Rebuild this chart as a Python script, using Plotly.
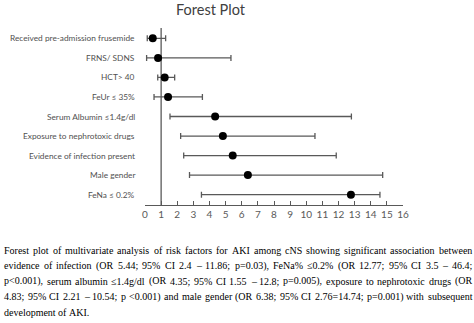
import plotly.graph_objects as go

# ---- data ----
factors = ["Received pre-admission frusemide", "FRNS/ SDNS", "HCT> 40", "FeUr ≤ 35%",
           "Serum Albumin ≤1.4g/dl", "Exposure to nephrotoxic drugs",
           "Evidence of infection present", "Male gender", "FeNa ≤ 0.2%"]
odds_ratio = [0.48, 0.81, 1.22, 1.43, 4.35, 4.83, 5.44, 6.38, 12.77]
ci_low = [0.14, 0.10, 0.79, 0.56, 1.55, 2.21, 2.40, 2.76, 3.50]
ci_high = [1.28, 5.33, 1.84, 3.56, 12.80, 10.54, 11.86, 14.74, 14.57]
x_ticks = list(range(0, 17))
ref_line = 1

caption_lines = [
    "Forest plot of multivariate analysis of risk factors for AKI among cNS showing significant association between",
    "evidence of infection (OR 5.44; 95% CI 2.4 – 11.86; p=0.03), FeNa% ≤0.2% (OR 12.77; 95% CI 3.5 – 46.4;",
    "p<0.001), serum albumin ≤1.4g/dl (OR 4.35; 95% CI 1.55 – 12.8; p=0.005), exposure to nephrotoxic drugs (OR",
    "4.83; 95% CI 2.21 – 10.54; p <0.001) and male gender (OR 6.38; 95% CI 2.76=14.74; p=0.001) with subsequent",
    "development of AKI.",
]

W, H = 474, 323
ML, MR, MT, MB = 145, 71, 28, 118
PW, PH = W - ML - MR, H - MT - MB
rows = list(range(len(factors)))

fig = go.Figure()
fig.add_trace(go.Scatter(
    x=odds_ratio, y=rows, mode="markers",
    marker=dict(color="black", size=8),
    error_x=dict(type="data", symmetric=False,
                 array=[h - o for h, o in zip(ci_high, odds_ratio)],
                 arrayminus=[o - l for o, l in zip(odds_ratio, ci_low)],
                 color="#595959", thickness=1.3, width=3),
    showlegend=False, hoverinfo="skip"))

fig.add_shape(type="line", xref="x", yref="paper", x0=ref_line, x1=ref_line, y0=0, y1=1,
              line=dict(color="#595959", width=1.3), layer="below")

annotations = []
for r, name in zip(rows, factors):
    annotations.append(dict(x=0, xref="paper", y=r, yref="y", text=name, showarrow=False,
                            xanchor="right", xshift=-8,
                            font=dict(family="Lato", size=8.3, color="#505050")))

annotations.append(dict(x=(211 - ML) / PW, xref="paper", y=1, yref="paper", xanchor="center",
                        yshift=MT - 9, yanchor="middle", text="Forest Plot", showarrow=False,
                        font=dict(family="Lato", size=14.5, color="#404040")))

# ---- caption with justified lines (Times metrics) ----
tw = {' ': 250, '%': 833, '(': 333, ')': 333, ',': 250, '-': 333, '.': 250, '/': 278, ':': 278,
      ';': 278, '<': 564, '=': 564, '>': 564, '–': 500, '≤': 549,
      'A': 722, 'C': 667, 'F': 556, 'I': 333, 'K': 722, 'N': 722, 'O': 722, 'R': 667, 'S': 556,
      'a': 444, 'b': 500, 'c': 444, 'd': 500, 'e': 444, 'f': 333, 'g': 500, 'h': 500, 'i': 278,
      'j': 278, 'k': 500, 'l': 278, 'm': 778, 'n': 500, 'o': 500, 'p': 500, 'q': 500, 'r': 333,
      's': 389, 't': 278, 'u': 500, 'v': 500, 'w': 722, 'x': 500, 'y': 500, 'z': 444}
def width(s, fs):
    return sum(tw.get(ch, 500) for ch in s) * fs / 1000.0

cap_fs = 10
left, right = 3, 471
line_y = [250, 265.5, 281, 296.5, 312]
for i, (line, ly) in enumerate(zip(caption_lines, line_y)):
    words = line.split(" ")
    justify = i < len(caption_lines) - 1
    total = sum(width(w_, cap_fs) for w_ in words)
    gap = (right - left - total) / (len(words) - 1) if justify else width(" ", cap_fs)
    x = left
    for w_ in words:
        annotations.append(dict(x=(x - ML) / PW, xref="paper", y=0, yref="paper",
                                text=w_, showarrow=False, xanchor="left", yanchor="middle",
                                yshift=-(ly - (H - MB)), xshift=-1,
                                font=dict(family="Liberation Serif", size=cap_fs, color="black")))
        x += width(w_, cap_fs) + gap

fig.update_layout(
    width=W, height=H, margin=dict(l=ML, r=MR, t=MT, b=MB),
    paper_bgcolor="white", plot_bgcolor="white",
    xaxis=dict(range=[0, 16], tickvals=x_ticks, showgrid=False, zeroline=False,
               showline=True, linecolor="#595959", linewidth=1.3,
               ticks="inside", ticklen=4, tickcolor="#595959", tickwidth=1,
               tickfont=dict(family="Lato", size=10, color="#595959")),
    yaxis=dict(range=[8.53, -0.53], showticklabels=False, showgrid=False, zeroline=False,
               showline=False),
    annotations=annotations,
)
fig.write_html("out.html")
